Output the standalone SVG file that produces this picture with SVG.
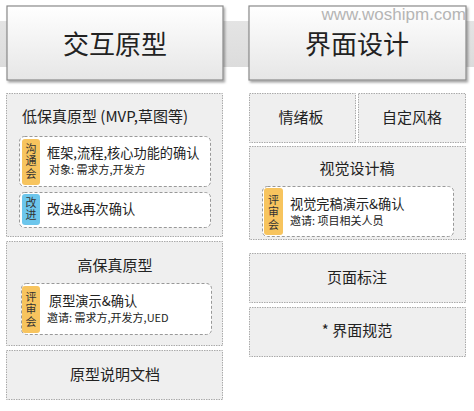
<svg xmlns="http://www.w3.org/2000/svg" width="474" height="411" viewBox="0 0 474 411">
<defs>
<linearGradient id="hdr" x1="0" y1="0" x2="0" y2="1">
<stop offset="0" stop-color="#ffffff"/>
<stop offset="1" stop-color="#e6e6e6"/>
</linearGradient>
<linearGradient id="band" x1="0" y1="0" x2="0" y2="1">
<stop offset="0" stop-color="#e4e4e4"/>
<stop offset="1" stop-color="#dcdcdc"/>
</linearGradient>
<filter id="sh" x="-10%" y="-10%" width="125%" height="130%">
<feDropShadow dx="1.5" dy="2" stdDeviation="1.2" flood-color="#000" flood-opacity="0.35"/>
</filter>
</defs>
<style>
text{font-family:"Noto Sans CJK SC","Liberation Sans",sans-serif;fill:#222}
.sec{fill:#efefef;stroke:#aaa;stroke-width:1;stroke-dasharray:1.5 1}
.sub{fill:#fff;stroke:#999;stroke-width:1;stroke-dasharray:3 2}
.hdr{fill:url(#hdr);stroke:#8a8a8a;stroke-width:1.2}
.big{font-size:26px;text-anchor:middle}
.ttl{font-size:15px;text-anchor:middle}
.main{font-size:13.2px}
.small{font-size:11px}
.badge{font-size:11px;fill:#333;writing-mode:vertical-rl;letter-spacing:1.5px}
.org{fill:#f7c45e}
.blu{fill:#6cc6ec}
</style>
<rect width="474" height="411" fill="#fff"/>
<rect x="0" y="21" width="474" height="46" fill="url(#band)"/>

<g id="header-left">
<rect class="hdr" x="7" y="6" width="216" height="74" filter="url(#sh)"/>
<text class="big" x="115" y="54">交互原型</text>
</g>
<g id="header-right">
<rect class="hdr" x="249" y="6" width="217" height="74" filter="url(#sh)"/>
<text x="466" y="20" style="font-family:'Liberation Sans',sans-serif;font-size:17px;fill:#b5b5b5;text-anchor:end">www.woshipm.com</text>
<text class="big" x="357" y="54">界面设计</text>
</g>

<g id="low-fi">
<rect class="sec" x="6.5" y="93.5" width="216" height="143"/>
<text x="22" y="122" style="font-size:15px">低保真原型 (MVP,草图等)</text>
<rect class="sub" x="19.5" y="136.5" width="191" height="50" rx="5"/>
<rect class="org" x="22" y="139" width="18" height="46" rx="3"/>
<text class="badge" x="31" y="143">沟通会</text>
<text class="main" x="47" y="158">框架,流程,核心功能的确认</text>
<text class="small" x="49" y="174">对象: 需求方,开发方</text>
<rect class="sub" x="19.5" y="192.5" width="191" height="35" rx="5"/>
<rect class="blu" x="22" y="194" width="18" height="31" rx="3"/>
<text class="badge" x="31" y="197">改进</text>
<text class="main" x="47" y="214">改进&amp;再次确认</text>
</g>

<g id="hi-fi">
<rect class="sec" x="6.5" y="241.5" width="216" height="104"/>
<text class="ttl" x="115" y="271">高保真原型</text>
<rect class="sub" x="21.5" y="283.5" width="190" height="51" rx="5"/>
<rect class="org" x="22" y="286" width="18" height="47" rx="3"/>
<text class="badge" x="31" y="291">评审会</text>
<text class="main" x="49" y="306">原型演示&amp;确认</text>
<text class="small" x="47" y="322">邀请: 需求方,开发方,UED</text>
</g>

<g id="proto-doc">
<rect class="sec" x="6.5" y="350.5" width="216" height="49"/>
<text class="ttl" x="115" y="380">原型说明文档</text>
</g>

<g id="moodboard">
<rect class="sec" x="249.5" y="93.5" width="106" height="49"/>
<text class="ttl" x="301" y="123">情绪板</text>
</g>
<g id="custom-style">
<rect class="sec" x="358.5" y="93.5" width="107" height="49"/>
<text class="ttl" x="412" y="123">自定风格</text>
</g>

<g id="visual-design">
<rect class="sec" x="249.5" y="146.5" width="216" height="93"/>
<text class="ttl" x="357" y="174">视觉设计稿</text>
<rect class="sub" x="262.5" y="186.5" width="191" height="50" rx="5"/>
<rect class="org" x="264" y="188" width="19" height="47" rx="3"/>
<text class="badge" x="273.5" y="194">评审会</text>
<text class="main" x="290" y="209">视觉完稿演示&amp;确认</text>
<text class="small" x="290" y="225">邀请: 项目相关人员</text>
</g>

<g id="page-annotation">
<rect class="sec" x="249.5" y="253.5" width="216" height="49"/>
<text class="ttl" x="357" y="283">页面标注</text>
</g>
<g id="ui-spec">
<rect class="sec" x="249.5" y="307.5" width="216" height="49"/>
<text class="ttl" x="357" y="336">* 界面规范</text>
</g>

<g id="connectors"></g>
</svg>
